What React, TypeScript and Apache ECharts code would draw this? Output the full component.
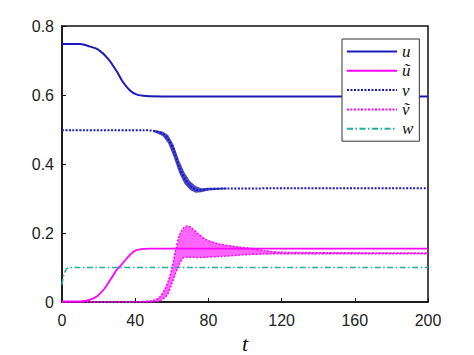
import React, { useEffect, useRef } from "react";
import * as echarts from "echarts";

// x ticks: 0..200 step 40, y ticks: 0..0.8 step 0.2
const xTicks = [0, 40, 80, 120, 160, 200];
const yTicks = [0, 0.2, 0.4, 0.6, 0.8];

const legendNames = ["u", "ũ", "v", "ṽ", "w"];

// u (blue solid)
const tU = [0, 10, 15, 20, 25, 30, 33, 37, 41, 46, 55, 200];
const uVals = [0.748, 0.748, 0.741, 0.731, 0.706, 0.668, 0.64, 0.614, 0.601, 0.597, 0.596, 0.596];

// ũ (magenta solid)
const tUt = [0, 10, 15, 19, 23, 26.5, 30, 32, 35.5, 39, 43, 48, 200];
const utVals = [0.002, 0.002, 0.006, 0.016, 0.037, 0.065, 0.094, 0.105, 0.127, 0.146, 0.153, 0.155, 0.155];

// v (blue dotted) centre line
const tV = [0, 45, 50, 55, 58, 61, 64, 67, 70, 73, 76, 80, 90, 200];
const vVals = [0.498, 0.498, 0.496, 0.488, 0.472, 0.44, 0.393, 0.358, 0.337, 0.326, 0.324, 0.327, 0.329, 0.33];

// v oscillation band envelope
const tVBand = [50, 55, 58, 61, 64, 67, 70, 73, 76, 80, 90];
const vUpper = [0.499, 0.494, 0.484, 0.456, 0.41, 0.375, 0.35, 0.336, 0.33, 0.331, 0.331];
const vLower = [0.493, 0.481, 0.46, 0.42, 0.374, 0.342, 0.325, 0.317, 0.318, 0.323, 0.327];

// ṽ (magenta dotted) oscillation band envelope
const tVt = [0, 40, 45, 50, 53, 56, 58, 60, 62, 64, 66, 68, 70, 74, 79, 86, 97, 103, 110, 120, 200];
const vtUpper = [0, 0, 0.002, 0.005, 0.012, 0.035, 0.06, 0.095, 0.148, 0.19, 0.212, 0.22, 0.218, 0.2, 0.18, 0.168, 0.159, 0.156, 0.149, 0.144, 0.142];
const vtLower = [0, 0, 0, 0, 0.002, 0.012, 0.025, 0.053, 0.082, 0.108, 0.127, 0.13, 0.13, 0.129, 0.13, 0.132, 0.136, 0.138, 0.139, 0.14, 0.14];

// w (teal dash-dot)
const tW = [0, 1, 2, 3, 4, 200];
const wVals = [0.05, 0.079, 0.092, 0.098, 0.1, 0.1];

const BLUE = "#1a1ab8";
const MAGENTA = "#ff00ff";
const TEAL = "#20b09c";

const zip = (ts: number[], vs: number[]) => ts.map((t, i) => [t, vs[i]]);

function bandRenderer(ts: number[], up: number[], lo: number[], color: string, opacity: number) {
  return (_params: any, api: any) => {
    const pts: number[][] = [];
    for (let i = 0; i < ts.length; i++) pts.push(api.coord([ts[i], up[i]]));
    for (let i = ts.length - 1; i >= 0; i--) pts.push(api.coord([ts[i], lo[i]]));
    return {
      type: "polygon",
      shape: { points: pts },
      style: { fill: color, opacity },
    };
  };
}

export default function App() {
  const ref = useRef<HTMLDivElement>(null);
  useEffect(() => {
    if (!ref.current) return;
    const chart = echarts.init(ref.current, null, { renderer: "svg" });
    const lineBase = { type: "line", symbol: "none", smooth: 0.3, silent: true };
    chart.setOption({
      animation: false,
      backgroundColor: "#fff",
      grid: {
        left: 62,
        right: 46,
        top: 26,
        bottom: 53,
        show: true,
        borderColor: "#111",
        borderWidth: 1.5,
        backgroundColor: "transparent",
        outerBoundsMode: "none",
      },
      xAxis: {
        type: "value",
        min: xTicks[0],
        max: xTicks[xTicks.length - 1],
        interval: xTicks[1] - xTicks[0],
        axisLine: { show: true, lineStyle: { color: "#111", width: 1.5 } },
        axisTick: { show: true, inside: true, length: 4, lineStyle: { color: "#111" } },
        axisLabel: { margin: 10, fontSize: 16, color: "#222", fontFamily: "Liberation Sans" },
        splitLine: { show: false },
        name: "t",
        nameLocation: "middle",
        nameGap: 27,
        nameTextStyle: { fontFamily: "Liberation Serif", fontStyle: "italic", fontSize: 22, color: "#111" },
      },
      yAxis: {
        type: "value",
        min: yTicks[0],
        max: yTicks[yTicks.length - 1],
        interval: yTicks[1] - yTicks[0],
        axisLine: { show: true, lineStyle: { color: "#111", width: 1.5 } },
        axisTick: { show: true, inside: true, length: 4, lineStyle: { color: "#111" } },
        axisLabel: {
          margin: 8,
          fontSize: 16,
          color: "#222",
          fontFamily: "Liberation Sans",
          formatter: (v: number) => String(Math.round(v * 10) / 10),
        },
        splitLine: { show: false },
      },
      legend: {
        data: legendNames,
        orient: "vertical",
        left: 342,
        top: 39,
        itemWidth: 50,
        itemHeight: 10,
        itemGap: 2.3,
        padding: [4, 6, 4, 4],
        backgroundColor: "#fff",
        borderColor: "#333",
        borderWidth: 1,
        borderRadius: 0,
        selectedMode: false,
        itemStyle: { opacity: 0 },
        textStyle: { fontFamily: "Liberation Serif", fontStyle: "italic", fontSize: 17, lineHeight: 16, color: "#111" },
      },
      series: [
        { ...lineBase, name: "u", data: zip(tU, uVals), lineStyle: { color: BLUE, width: 2 }, itemStyle: { color: BLUE } },
        { ...lineBase, name: "ũ", data: zip(tUt, utVals), lineStyle: { color: MAGENTA, width: 1.8 }, itemStyle: { color: MAGENTA } },
        { ...lineBase, name: "v", data: zip(tV, vVals), lineStyle: { color: BLUE, width: 2, type: [2, 1.5] }, itemStyle: { color: BLUE } },
        { ...lineBase, name: "w", data: zip(tW, wVals), lineStyle: { color: TEAL, width: 1.5, type: [6, 2.5, 1.5, 2.5] }, itemStyle: { color: TEAL } },
        {
          type: "custom",
          name: "vBand",
          silent: true,
          data: [[0, 0]],
          encode: { x: 0, y: 1 },
          renderItem: bandRenderer(tVBand, vUpper, vLower, BLUE, 0.8),
          z: 3,
        },
        {
          type: "custom",
          name: "vtBand",
          silent: true,
          data: [[0, 0]],
          encode: { x: 0, y: 1 },
          renderItem: bandRenderer(tVt, vtUpper, vtLower, MAGENTA, 0.6),
          z: 3,
        },
        { ...lineBase, name: "ṽ", data: zip(tVt, vtLower), lineStyle: { color: MAGENTA, width: 1.5, type: [2, 1.5] }, itemStyle: { color: MAGENTA }, z: 4 },
        { ...lineBase, name: "ṽ upper", data: zip(tVt, vtUpper), lineStyle: { color: MAGENTA, width: 1.5, type: [2, 1.5] }, itemStyle: { color: MAGENTA }, z: 4 },
      ],
    });
    return () => chart.dispose();
  }, []);
  return <div ref={ref} style={{ position: "fixed", left: 0, top: 0, width: 474, height: 355 }} />;
}
